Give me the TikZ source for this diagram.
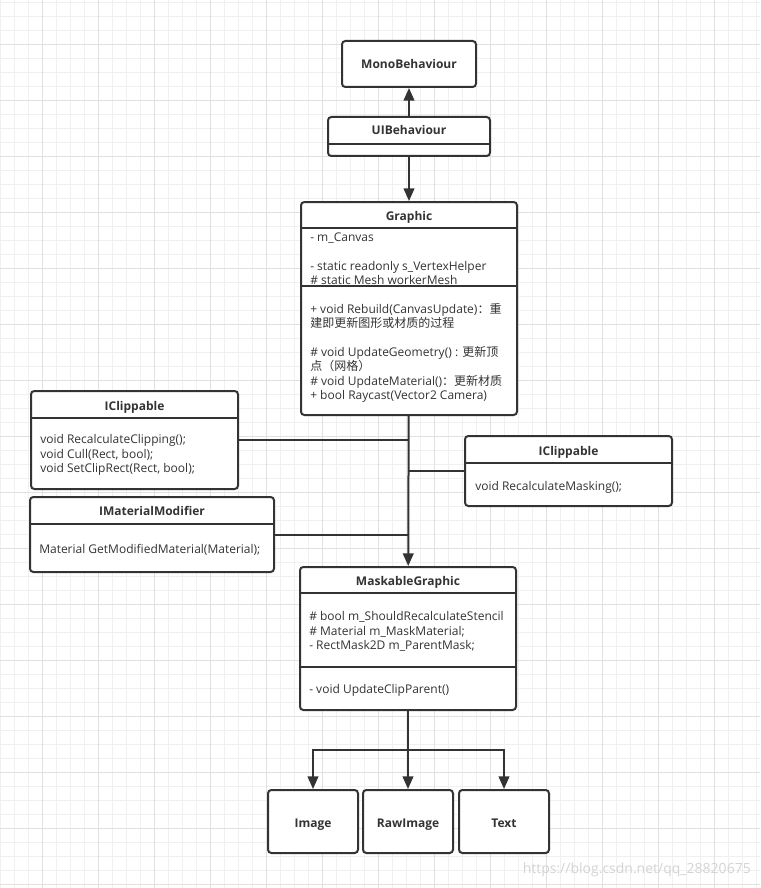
\documentclass[tikz,border=0pt]{standalone}
\usepackage{fontspec}
\setmainfont{Open Sans}
\newfontfamily\cjk{Noto Sans CJK SC}
\usetikzlibrary{arrows.meta,fit}
\definecolor{ink}{HTML}{333333}
\definecolor{gridminor}{HTML}{F0F0F0}
\definecolor{gridmajor}{HTML}{E0E0E0}
\definecolor{watermark}{HTML}{D4D4D4}

\begin{document}
\begin{tikzpicture}[x=0.75pt,y=-0.75pt,
  umlbox/.style={draw=ink,line width=1.5pt,rounded corners=2.5pt,inner sep=0pt,fill=white},
  title/.style={font=\fontsize{9}{10.75}\selectfont\bfseries,text=ink,inner sep=0pt,
    text height=6.4pt,text depth=0pt},
  members/.style={font=\fontsize{9}{10.75}\selectfont,text=ink,align=left,
    anchor=base west,inner sep=0pt},
  sep/.style={draw=ink,line width=1.5pt},
  link/.style={draw=ink,line width=1.5pt},
  inherit/.style={link,-{Triangle[length=9.5pt,width=8pt]}}]

  % background grid
  \useasboundingbox (0,0) rectangle (760,888);
  \fill[white] (0,0) rectangle (760,888);
  \foreach \gx in {0,14,...,760} \draw[gridminor,line width=0.6pt] (\gx,0) -- (\gx,888);
  \foreach \gy in {2,16,...,888} \draw[gridminor,line width=0.6pt] (0,\gy) -- (760,\gy);
  \foreach \gx in {42,98,...,760} \draw[gridmajor,line width=0.6pt] (\gx,0) -- (\gx,888);
  \foreach \gy in {44,100,...,888} \draw[gridmajor,line width=0.6pt] (0,\gy) -- (760,\gy);

  % class boxes
  \node[umlbox,fit={(342,41) (476,87)}] (mono) {};
  \node[umlbox,fit={(328,117) (490,156)}] (uib) {};
  \node[umlbox,fit={(301,202) (517,415)}] (graphic) {};
  \node[umlbox,fit={(31,391) (238,489)}] (iclipL) {};
  \node[umlbox,fit={(30,497) (274,572)}] (imat) {};
  \node[umlbox,fit={(465,436) (672,506)}] (iclipR) {};
  \node[umlbox,fit={(300,567) (516,710)}] (maskable) {};
  \node[umlbox,fit={(268,790) (358,853)}] (image) {};
  \node[umlbox,fit={(363,790) (453,853)}] (rawimage) {};
  \node[umlbox,fit={(459,790) (549,853)}] (text) {};

  % compartments
  \draw[sep] (uib.west |- 0,144) -- (uib.east |- 0,144);
  \draw[sep] (graphic.west |- 0,228) -- (graphic.east |- 0,228);
  \draw[sep] (graphic.west |- 0,286) -- (graphic.east |- 0,286);
  \draw[sep] (iclipL.west |- 0,418) -- (iclipL.east |- 0,418);
  \draw[sep] (imat.west |- 0,524) -- (imat.east |- 0,524);
  \draw[sep] (iclipR.west |- 0,463) -- (iclipR.east |- 0,463);
  \draw[sep] (maskable.west |- 0,593) -- (maskable.east |- 0,593);
  \draw[sep] (maskable.west |- 0,667) -- (maskable.east |- 0,667);

  % titles
  \node[title] (monoT) at (409,64) {MonoBehaviour};
  \node[title] (uibT) at (409,130) {UIBehaviour};
  \node[title] (graphicT) at (409,216) {Graphic};
  \node[title] (iclipLT) at (134.5,406) {IClippable};
  \node[title] (imatT) at (152,511) {IMaterialModifier};
  \node[title] (iclipRT) at (568.5,451) {IClippable};
  \node[title] (maskableT) at (408,581) {MaskableGraphic};
  \node[title] (imageT) at (313,823) {Image};
  \node[title] (rawimageT) at (408,823) {RawImage};
  \node[title] (textT) at (504,823) {Text};

  % members (base = last line)
  \node[members] (graphicA) at (310,284.5) {- m\_Canvas\\[10.75pt]
    - static readonly s\_VertexHelper\\
    \# static Mesh workerMesh};
  \node[members] (graphicM) at (310,399.5) {+ void Rebuild(CanvasUpdate){\cjk：重}\\
    {\cjk 建即更新图形或材质的过程}\\[10.75pt]
    \# void UpdateGeometry() : {\cjk 更新顶}\\
    {\cjk 点（网格）}\\
    \# void UpdateMaterial(){\cjk：更新材质}\\
    + bool Raycast(Vector2 Camera)};
  \node[members] (iclipLM) at (40,472.5) {void RecalculateClipping();\\
    void Cull(Rect, bool);\\
    void SetClipRect(Rect, bool);};
  \node[members] (imatM) at (39,553.5) {Material GetModifiedMaterial(Material);};
  \node[members] (iclipRM) at (475,490.5) {void RecalculateMasking();};
  \node[members] (maskableA) at (309,649.5) {\# bool m\_ShouldRecalculateStencil\\
    \# Material m\_MaskMaterial;\\
    - RectMask2D m\_ParentMask;};
  \node[members] (maskableM) at (309,693.5) {- void UpdateClipParent()};

  % connectors
  \draw[inherit] (uib) -- (mono);
  \draw[inherit] (uib) -- (graphic);
  \draw[inherit] (graphic) -- (maskable);
  \draw[link] (iclipL.east) -- (iclipL.east -| maskable.north);
  \draw[link] (imat.east) -- (imat.east -| maskable.north);
  \draw[link] (iclipR.west) -- (iclipR.west -| maskable.north);
  \coordinate (fork) at (408,750);
  \draw[link] (maskable) -- (fork);
  \draw[inherit] (fork) -| (image);
  \draw[inherit] (fork) -- (rawimage);
  \draw[inherit] (fork) -| (text);

  \node[font=\fontsize{10.5}{12}\selectfont,text=watermark,anchor=east,inner sep=0pt]
    (mark) at (751,870) {https://blog.csdn.net/qq\_28820675};
\end{tikzpicture}
\end{document}
